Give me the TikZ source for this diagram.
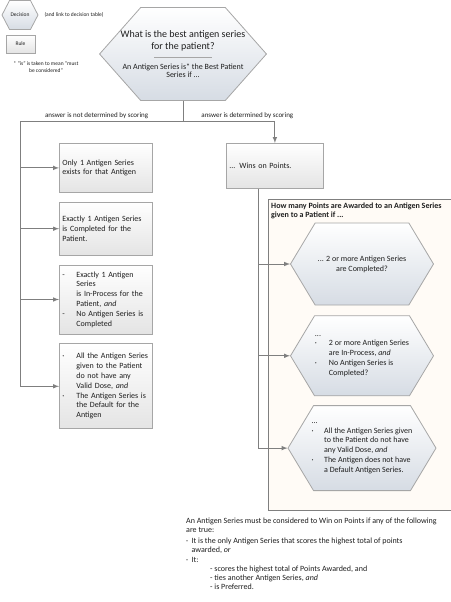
\documentclass[tikz,border=0pt]{standalone}
\usepackage{fontspec}
\setmainfont{Carlito}
\usetikzlibrary{positioning, shapes.symbols}
\definecolor{linegray}{HTML}{7F7F7F}
\definecolor{edgegray}{HTML}{A6A6A6}
\definecolor{boxlow}{HTML}{E4E4E4}
\definecolor{hexlow}{HTML}{D6DCE4}
\definecolor{panelfill}{HTML}{FFFBF6}
\definecolor{ink}{HTML}{1E1E1E}
\newcommand{\bul}[2][14pt]{\makebox[#1][l]{#2}}
\newcommand{\ind}[1][14pt]{\hspace*{#1}}

\begin{document}
\begin{tikzpicture}[x=1pt, y=-1pt, node distance=9pt, text=ink,
  body/.style = {font=\fontsize{8}{9.8}\selectfont},
  small/.style = {font=\fontsize{5.5}{6.8}\selectfont},
  rulebox/.style = {draw=edgegray, line width=0.8pt, top color=white, bottom color=boxlow, body, align=left, text width=87pt, inner sep=3pt},
  hexa/.style = {signal, signal to=west and east, signal pointer angle=118, draw=edgegray, line width=0.8pt, top color=white, bottom color=hexlow, body, align=left, inner xsep=-20pt, inner ysep=2pt},
  lbl/.style = {font=\fontsize{7}{8}\selectfont, above, inner sep=1.5pt},
  link/.style = {draw=linegray, line width=1pt},
  arr/.style = {link, -latex}]
\useasboundingbox (0,0) rectangle (450,602);

% legend
\node[hexa, small, align=center, minimum width=36pt, minimum height=29pt, signal pointer angle=125] (decision) at (20,15) {Decision};
\node[small, anchor=west] (declink) at (41,15) {(and link to decision table)};
\node[draw=edgegray, line width=0.8pt, top color=white, bottom color=boxlow, small, minimum width=29pt, minimum height=18pt] (rule) at (20.5,44) {Rule};
\node[small, align=center] (isnote) at (46,67) {* “is” is taken to mean “must\\be considered”};

% top decision
\node[hexa, align=center, minimum width=162pt, minimum height=93pt, signal pointer angle=97] (best) at (183,54)
  {{\fontsize{10}{12}\selectfont What is the best antigen series}\\[2.2pt]
   {\fontsize{10}{12}\selectfont for the patient?}\\[-1pt]
   {\color{edgegray}\rule{58pt}{0.6pt}}\\[2.2pt]
   An Antigen Series is* the Best Patient\\[-1.8pt]
   Series if ...};
\coordinate (lft) at (20,121);
\coordinate (split) at (best.south |- lft);

% rules, not scored
\node[rulebox, minimum height=49pt, anchor=north west] (only) at (59,143) {Only 1 Antigen Series\\exists for that Antigen};
\node[rulebox, minimum height=53pt, below=of only] (exactly) {Exactly 1 Antigen Series\\is Completed for the\\Patient.};
\node[rulebox, minimum height=69pt, below=of exactly] (inproc)
  {\bul{-}Exactly 1 Antigen\\ \ind Series\\ \ind is In-Process for the\\ \ind Patient, \textit{and}\\ \bul{-}No Antigen Series is\\ \ind Completed};
\node[rulebox, minimum height=85pt, below=of inproc] (default)
  {\bul{·}All the Antigen Series\\ \ind given to the Patient\\ \ind do not have any\\ \ind Valid Dose, \textit{and}\\ \bul{·}The Antigen Series is\\ \ind the Default for the\\ \ind Antigen};

% scored
\node[rulebox, text width=91pt, minimum height=45pt, anchor=north west] (wins) at (226,143) {... Wins on Points.};
\node[draw=linegray, line width=0.8pt, fill=panelfill, minimum width=184pt, minimum height=311pt, inner sep=0pt, anchor=north west] (panel) at (268,199) {};
\node[font=\fontsize{8}{9.4}\selectfont\bfseries, align=left, anchor=north west, inner sep=1pt] (paneltitle) at (270,201.5)
  {How many Points are Awarded to an Antigen Series\\given to a Patient if ...};
\node[hexa, align=center, minimum width=143pt, minimum height=82pt] (comp) at (362,264) {... 2 or more Antigen Series\\are Completed?};
\node[hexa, minimum width=143pt, minimum height=80pt, below=10pt of comp] (proc)
  {...\\ \bul{·}2 or more Antigen Series\\ \ind are In-Process, \textit{and}\\ \bul{·}No Antigen Series is\\ \ind Completed?};
\node[hexa, minimum width=148pt, minimum height=85pt, below=of proc] (nodose)
  {...\\ \bul[12.5pt]{·}All the Antigen Series given\\ \ind[12.5pt]to the Patient do not have\\ \ind[12.5pt]any Valid Dose, \textit{and}\\ \bul[12.5pt]{·}The Antigen does not have\\ \ind[12.5pt]a Default Antigen Series.};

% connectors
\draw[link] (best) -- (split);
\draw[arr] (split) -- node[lbl, pos=0.53] {answer is not determined by scoring} (lft) |- (default);
\foreach \b in {only, exactly, inproc}
  \draw[arr] (lft |- \b.west) -- (\b.west);
\draw[arr] (split) -- node[lbl, pos=0.7] {answer is determined by scoring} (split -| wins) -- (wins);
\coordinate (trunk) at ([xshift=-16.5pt]wins.south);
\draw[arr] (trunk) |- (nodose.west);
\foreach \h in {comp, proc}
  \draw[arr] (trunk |- \h.west) -- (\h.west);

% note
\node[font=\fontsize{8}{9}\selectfont, align=left, anchor=north west, inner sep=0pt] (winsnote) at (186,518)
  {An Antigen Series must be considered to Win on Points if any of the following\\
   are true:\\[1.5pt]
   \bul[5.5pt]{·}It is the only Antigen Series that scores the highest total of points\\
   \ind[5.5pt]awarded, \textit{or}\\[1.5pt]
   \bul[5.5pt]{·}It:\\
   \ind[24pt]- scores the highest total of Points Awarded, and\\
   \ind[24pt]- ties another Antigen Series, \textit{and}\\
   \ind[24pt]- is Preferred.};
\end{tikzpicture}
\end{document}
